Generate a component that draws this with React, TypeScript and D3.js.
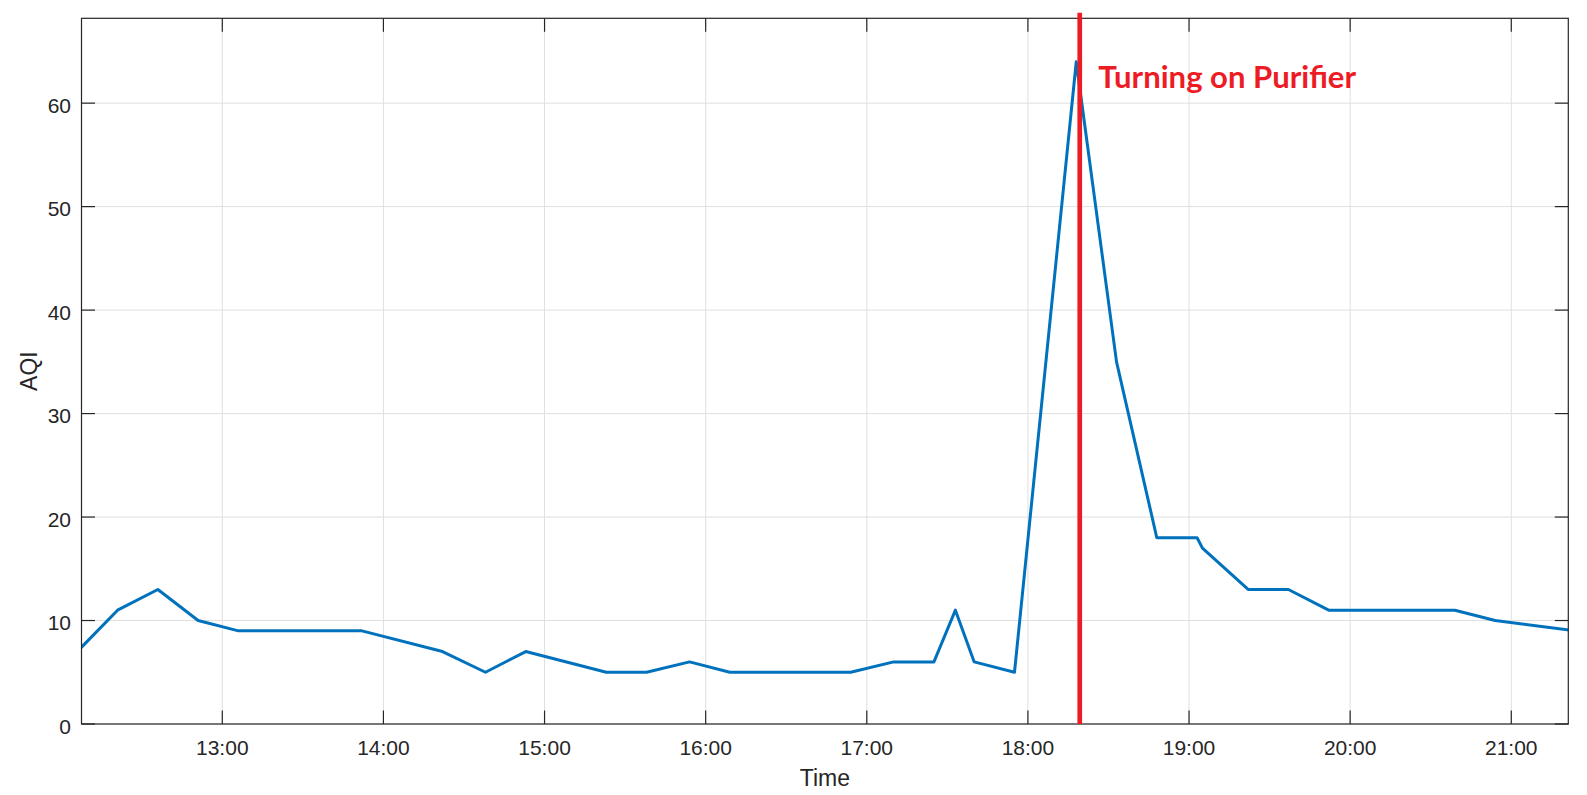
import * as d3 from 'd3';

// AQI readings (clock time, value)
const times = [
    '12:06', '12:21', '12:36', '12:51', '13:06', '13:52', '14:22', '14:38', '14:53',
    '15:23', '15:38', '15:54', '16:09', '16:54', '17:10', '17:25', '17:33', '17:40',
    '17:55', '18:18', '18:33', '18:48', '19:03', '19:05', '19:22', '19:37', '19:52',
    '20:39', '20:54', '21:24'
];
const aqi = [
    7, 11, 13, 10, 9, 9, 7, 5, 7,
    5, 5, 6, 5, 5, 6, 6, 11, 6,
    5, 64, 35, 18, 18, 17, 13, 13, 11,
    11, 10, 9
];

const xTickLabels = ['13:00', '14:00', '15:00', '16:00', '17:00', '18:00', '19:00', '20:00', '21:00'];
const yTicks = [0, 10, 20, 30, 40, 50, 60];
const timeStart = '12:07:34';
const timeEnd = '21:21:14';
const yMax = 68.2;

const eventTime = '18:19:18';
const eventLabel = 'Turning on Purifier';

const parseHM = d3.timeParse('%H:%M');
const parseHMS = d3.timeParse('%H:%M:%S');

const width = 1587;
const height = 795;
const marginLeft = 81.5;
const marginRight = 18.7;
const marginTop = 18.3;
const marginBottom = 71;

const axisColor = '#262626';
const gridColor = '#dfdfdf';
const tickLen = 13.5;
const font = '"Liberation Sans", Arial, sans-serif';

function App() {
    const x = d3.scaleTime(
        [parseHMS(timeStart) as Date, parseHMS(timeEnd) as Date],
        [marginLeft, width - marginRight]
    );
    const y = d3.scaleLinear([0, yMax], [height - marginBottom, marginTop]);

    const data = times.map((t, i) => ({ t: parseHM(t) as Date, v: aqi[i] }));
    const line = d3.line<{ t: Date; v: number }>()
        .x(d => x(d.t))
        .y(d => y(d.v));

    const xTicks = xTickLabels.map(l => parseHM(l) as Date);
    const x0 = marginLeft;
    const x1 = width - marginRight;
    const y0 = height - marginBottom;
    const y1 = marginTop;
    const ex = x(parseHMS(eventTime) as Date);

    return (
        <svg width={width} height={height}
            style={{ position: 'absolute', left: 0, top: 0, background: '#fff' }}>
            <defs>
                <clipPath id="plot">
                    <rect x={x0} y={y1} width={x1 - x0} height={y0 - y1} />
                </clipPath>
            </defs>
            <rect x={0} y={0} width={width} height={height} fill="#fff" />

            {/* grid */}
            <g stroke={gridColor} strokeWidth={1}>
                {xTicks.map((t, i) => (
                    <line key={'gx' + i} x1={x(t)} x2={x(t)} y1={y1} y2={y0} />
                ))}
                {yTicks.map(v => (
                    <line key={'gy' + v} x1={x0} x2={x1} y1={y(v)} y2={y(v)} />
                ))}
            </g>

            <path
                d={line(data) ?? undefined}
                fill="none"
                stroke="#0072bd"
                strokeWidth={3}
                strokeLinejoin="round"
                clipPath="url(#plot)"
            />

            {/* box and inward ticks */}
            <g stroke={axisColor} strokeWidth={1.2} fill="none">
                <rect x={x0} y={y1} width={x1 - x0} height={y0 - y1} />
                {xTicks.map((t, i) => (
                    <g key={'tx' + i}>
                        <line x1={x(t)} x2={x(t)} y1={y0} y2={y0 - tickLen} />
                        <line x1={x(t)} x2={x(t)} y1={y1} y2={y1 + tickLen} />
                    </g>
                ))}
                {yTicks.map(v => (
                    <g key={'ty' + v}>
                        <line x1={x0} x2={x0 + tickLen} y1={y(v)} y2={y(v)} />
                        <line x1={x1} x2={x1 - tickLen} y1={y(v)} y2={y(v)} />
                    </g>
                ))}
            </g>

            <g fill={axisColor} fontFamily={font} fontSize={21}>
                {xTicks.map((t, i) => (
                    <text key={'lx' + i} x={x(t)} y={y0 + 31} textAnchor="middle">
                        {xTickLabels[i]}
                    </text>
                ))}
                {yTicks.map(v => (
                    <text key={'ly' + v} x={x0 - 10.5} y={y(v) + 9.5} textAnchor="end">
                        {v}
                    </text>
                ))}
            </g>

            <text x={(x0 + x1) / 2} y={785.5} textAnchor="middle"
                fontFamily={font} fontSize={23} fill={axisColor}>Time</text>
            <text transform={`translate(37.3, ${(y0 + y1) / 2}) rotate(-90)`} textAnchor="middle"
                fontFamily={font} fontSize={23} fill={axisColor}>AQI</text>

            <line x1={ex} x2={ex} y1={12.7} y2={y0} stroke="#ed1c24" strokeWidth={4.7} />
            <text x={ex + 18.6} y={88.3} fontFamily="Lato, 'Open Sans', sans-serif"
                fontWeight="bold" fontSize={30} fill="#ed1c24"
                textLength={257.7} lengthAdjust="spacingAndGlyphs">{eventLabel}</text>
        </svg>
    );
}

export default App;
